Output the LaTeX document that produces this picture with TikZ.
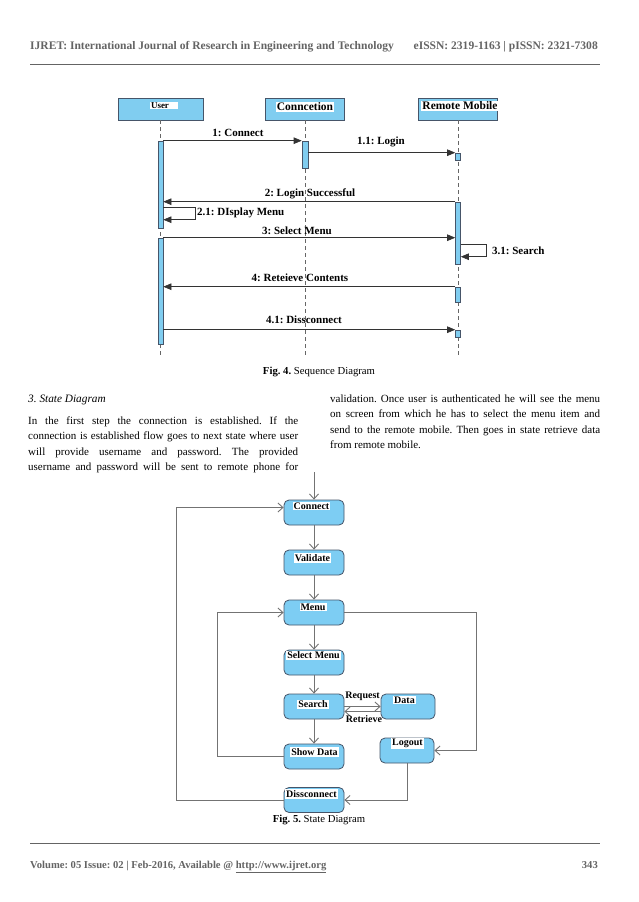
\documentclass[tikz,border=0pt]{standalone}
\usepackage{fontspec}
\setmainfont{Liberation Serif}
\usetikzlibrary{arrows.meta,calc}
\definecolor{seqblue}{RGB}{128,205,240}
\definecolor{stblue}{RGB}{125,205,243}
\definecolor{hdrgray}{RGB}{100,100,100}
\definecolor{lngray}{RGB}{115,115,115}
\definecolor{boxedge}{RGB}{70,85,105}
\newcommand{\fs}[2]{\fontsize{#1}{#2}\selectfont}
\frenchspacing
\begin{document}
\begin{tikzpicture}[x=1pt,y=-1pt,
  obj/.style={draw=boxedge, fill=seqblue, line width=0.8pt, minimum height=22pt, minimum width=79pt, inner sep=0pt},
  objlbl/.style={fill=white, inner sep=1pt, font=\fs{11.5}{12}\bfseries},
  bar/.style={draw=boxedge, fill=seqblue, line width=0.6pt, minimum width=5pt, inner sep=0pt},
  life/.style={dash pattern=on 4pt off 3pt, draw=black!60, line width=0.7pt},
  msg/.style={-{Triangle[length=8pt,width=6.5pt]}, line width=0.6pt, draw=black!80},
  mlbl/.style={font=\fs{11}{12}\bfseries, inner sep=0pt},
  state/.style={draw=boxedge, fill=stblue, rounded corners=5pt, minimum width=60pt, minimum height=25pt, line width=0.8pt, inner sep=0pt},
  slbl/.style={fill=white, inner sep=1pt, font=\fs{10}{11}\bfseries},
  flow/.style={draw=lngray, line width=0.9pt, -{Straight Barb[length=5pt,width=9pt]}},
  txt/.style={anchor=base west, inner sep=0pt, font=\fs{11}{13}},
  hdr/.style={inner sep=0pt, text=hdrgray, font=\fs{11.55}{13}\bfseries},
  ftr/.style={inner sep=0pt, text=hdrgray, font=\fs{10.6}{13}\bfseries}
]
\useasboundingbox[fill=white] (0,0) rectangle (638,902);

% header and footer
\node[hdr, anchor=base west] (h1) at (30,49) {IJRET: International Journal of Research in Engineering and Technology};
\node[hdr, anchor=base east] (h2) at (598,49) {eISSN: 2319-1163 | pISSN: 2321-7308};
\draw[hdrgray, line width=0.8pt] (30,64) -- (600,64);
\draw[hdrgray, line width=0.8pt] (30,843) -- (600,843);
\node[ftr, anchor=base west] (f1) at (30,868) {Volume: 05 Issue: 02 | Feb-2016, Available @ \underline{http://www.ijret.org}};
\node[ftr, anchor=base east] (f2) at (598,868) {343};

% ---------- sequence diagram ----------
\node[obj, minimum width=85pt] (user) at (160.5,109) {};
\node[obj] (conn) at (305,109) {};
\node[obj] (remote) at (458,109) {};
\node[objlbl, font=\fs{9}{10}\bfseries, text width=26pt, align=left] (userl) at (164,105.5) {User};
\node[objlbl] (connl) at (305,107) {Conncetion};
\node[objlbl] (remotel) at (460,106) {Remote Mobile};

\coordinate (ue) at (160.5,358);
\coordinate (ce) at (305,358);
\coordinate (re) at (458,358);
\draw[life] (user.south) -- (ue);
\draw[life] (conn.south) -- (ce);
\draw[life] (remote.south) -- (re);

\node[bar, minimum height=87pt] (u1) at (160.5,184.5) {};
\node[bar, minimum height=106pt] (u2) at (160.5,291) {};
\node[bar, minimum width=6pt, minimum height=27pt] (c1) at (305,154.5) {};
\node[bar, minimum height=7pt] (r1) at (458,156.5) {};
\node[bar, minimum height=62pt] (r2) at (458,233) {};
\node[bar, minimum height=15pt] (r3) at (458,294.5) {};
\node[bar, minimum height=7pt] (r4) at (458,333.5) {};

\draw[msg] (u1.north east) -- (c1.north west);
\node[mlbl] (m1) at (238,132.5) {1: Connect};
\draw[msg] (c1.east |- r1.north) -- (r1.north west);
\node[mlbl] (m11) at (381,142) {1.1: Login};
\draw[msg] (r2.north west) -- (u1.east |- r2.north);
\node[mlbl] (m2) at (310,194) {2: Login Successful};
\draw[msg] ($(u1.east |- r2.north)+(0,6)$) -- ++(32,0) -- ++(0,12) -- ++(-32,0);
\node[mlbl, anchor=west] (m21) at (197,213) {2.1: DIsplay Menu};
\draw[msg] (u2.north east) -- (r2.west |- u2.north);
\node[mlbl] (m3) at (297,230.5) {3: Select Menu};
\draw[msg] ($(r2.east |- u2.north)+(0,7)$) -- ++(25,0) -- ++(0,12) -- ++(-25,0);
\node[mlbl, anchor=west] (m31) at (492,251) {3.1: Search};
\draw[msg] (r3.north west) -- (u2.east |- r3.north);
\node[mlbl] (m4) at (300,278) {4: Reteieve Contents};
\draw[msg] (u2.east |- r4.north) -- (r4.north west);
\node[mlbl] (m41) at (304,320) {4.1: Dissconnect};

\node[inner sep=0pt, font=\fs{10.7}{12}] (cap4) at (319,372) {{\bfseries Fig. 4.} Sequence Diagram};

% ---------- text ----------
\node[txt, font=\fs{11.3}{13}\itshape] (head) at (28,402) {3. State Diagram};
\node[txt] (l1) at (28,424) {\makebox[270pt][s]{In the first step the connection is established. If the}};
\node[txt] (l2) at (28,439.5) {\makebox[270pt][s]{connection is established flow goes to next state where user}};
\node[txt] (l3) at (28,455) {\makebox[270pt][s]{will provide username and password. The provided}};
\node[txt] (l4) at (28,470.5) {\makebox[270pt][s]{username and password will be sent to remote phone for}};
\node[txt] (r1t) at (330,402) {\makebox[270pt][s]{validation. Once user is authenticated he will see the menu}};
\node[txt] (r2t) at (330,417.5) {\makebox[270pt][s]{on screen from which he has to select the menu item and}};
\node[txt] (r3t) at (330,433) {\makebox[270pt][s]{send to the remote mobile. Then goes in state retrieve data}};
\node[txt] (r4t) at (330,448.5) {from remote mobile.};

% ---------- state diagram ----------
\node[state] (connect) at (314,512.5) {};
\node[state] (validate) at (314,562.5) {};
\node[state] (menu) at (314,612.5) {};
\node[state] (select) at (314,662.5) {};
\node[state] (search) at (314,706.5) {};
\node[state, minimum width=54pt] (data) at (408,706.5) {};
\node[state] (show) at (314,756.5) {};
\node[state, minimum width=54pt] (logout) at (407,750.5) {};
\node[state] (disc) at (314,800) {};

\node[slbl] (connectl) at (311.5,506) {Connect};
\node[slbl] (validatel) at (312.5,558) {Validate};
\node[slbl] (menul) at (313,607) {Menu};
\node[slbl] (selectl) at (313.5,655.5) {Select Menu};
\node[slbl] (searchl) at (313,704.5) {Search};
\node[slbl] (datal) at (404.5,700) {Data};
\node[slbl] (showl) at (314.5,752) {Show Data};
\node[slbl] (logoutl) at (407.5,743.5) {Logout};
\node[slbl] (discl) at (311.5,794) {Dissconnect};

\coordinate (start) at (314,472);
\coordinate (rx) at (476,0);
\coordinate (lx1) at (217,0);
\coordinate (lx2) at (176.5,0);

\draw[flow] (start) -- (connect.north);
\draw[flow] (connect.south) -- (validate.north);
\draw[flow] (validate.south) -- (menu.north);
\draw[flow] (menu.south) -- (select.north);
\draw[flow] (select.south) -- (search.north);
\draw[flow] (search.south) -- (show.north);
\draw[flow] (search.east) -- (data.west);
\draw[flow] ($(data.west)+(0,5)$) -- ($(search.east)+(0,5)$);
\node[slbl, fill=none, inner sep=0pt] (reql) at (362.5,696.5) {Request};
\node[slbl, fill=none, inner sep=0pt] (retl) at (364,719.5) {Retrieve};
\draw[flow] (menu.east) -- (menu.east -| rx) |- (logout.east);
\draw[flow] (show.west) -- (show.west -| lx1) |- (menu.west);
\draw[flow] (logout.south) |- (disc.east);
\draw[flow] (disc.west) -- (disc.west -| lx2) |- ($(connect.west)+(0,-5)$);

\node[inner sep=0pt, font=\fs{10.7}{12}] (cap5) at (319,820) {{\bfseries Fig. 5.} State Diagram};
\end{tikzpicture}
\end{document}
